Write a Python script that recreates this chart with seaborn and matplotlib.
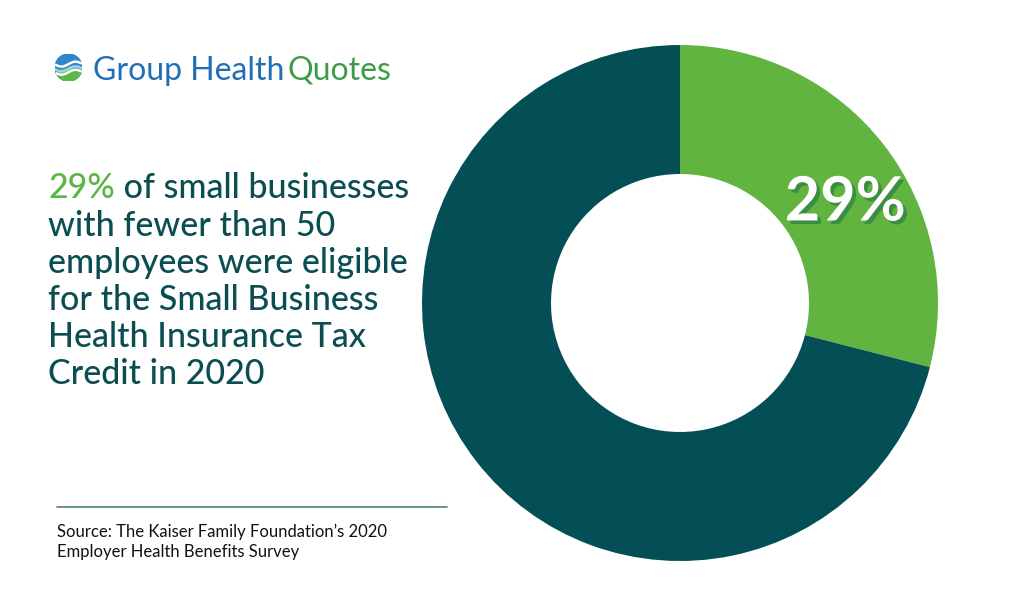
import matplotlib
matplotlib.use("Agg")
import matplotlib.pyplot as plt
import matplotlib.patheffects as pe
from matplotlib.patches import Circle, Wedge
import numpy as np
import seaborn as sns

# data
segments = ["Eligible", "Not eligible"]
shares = [29, 71]
seg_colors = ["#62B440", "#044F55"]
label_text = "29%"

headline_lead = "29%"
headline_rest = [" of small businesses",
                 "with fewer than 50",
                 "employees were eligible",
                 "for the Small Business",
                 "Health Insurance Tax",
                 "Credit in 2020"]
source_lines = ["Source: The Kaiser Family Foundation\u2019s 2020",
                "Employer Health Benefits Survey"]

sns.set_theme(style="white")
plt.rcParams["font.family"] = ["Lato", "DejaVu Sans"]

W, H = 1024, 611
fig = plt.figure(figsize=(W / 100, H / 100), dpi=100)
fig.patch.set_facecolor("white")

# donut
ax = fig.add_axes([422 / W, 1 - 561 / H, 516 / W, 516 / H])
wedges, _ = ax.pie(shares, colors=seg_colors, startangle=90, counterclock=False,
                   radius=1, wedgeprops=dict(width=0.5, linewidth=0))
ax.set_xlim(-1, 1)
ax.set_ylim(-1, 1)
ax.set_aspect("equal")
ax.axis("off")

# label inside green wedge
w = wedges[0]
ang = np.deg2rad((w.theta1 + w.theta2) / 2 - 6.5)
r = 0.75
ax.text(r * np.cos(ang), r * np.sin(ang), label_text, ha="center", va="center",
        fontsize=44, fontweight="bold", color="white",
        path_effects=[pe.SimplePatchShadow(offset=(2.5, -2.5), shadow_rgbFace="#3A8E42", alpha=1),
                      pe.Normal()])

# headline text
dark = "#0B4E52"
green = "#5DB544"
fs = 24.5
y0 = 1 - 198.5 / H
step = 37.2 / H
x0 = 48 / W
t = fig.text(x0, y0, headline_lead, color=green, fontsize=fs, va="baseline", ha="left",
             fontweight="medium")
fig.canvas.draw()
bb = t.get_window_extent()
fig.text(bb.x1 / W, y0, headline_rest[0], color=dark, fontsize=fs, va="baseline", ha="left",
         fontweight="medium")
for i, line in enumerate(headline_rest[1:], start=1):
    fig.text(x0, y0 - i * step, line, color=dark, fontsize=fs, va="baseline", ha="left",
             fontweight="medium")

# divider line and source
fig.add_artist(plt.Line2D([57 / W, 447 / W], [1 - 507 / H, 1 - 507 / H], color="#4F7E84", lw=1.2))
for i, line in enumerate(source_lines):
    fig.text(57 / W, 1 - (537 + i * 19.5) / H, line, fontsize=12, color="#111111",
             va="baseline", ha="left")

# logo
lax = fig.add_axes([55 / W, 1 - 81 / H, 27 / W, 27 / H])
lax.set_xlim(-1, 1)
lax.set_ylim(-1, 1)
lax.set_aspect("equal")
lax.axis("off")
lax.add_patch(Circle((0, 0), 1, color="#2E86C9"))
lax.add_patch(Wedge((0, 0), 1, 200, 340, color="#5CB648"))
xs = np.linspace(-1, 1, 50)
for off, c in [(0.25, "white"), (-0.1, "#9ED3F0"), (-0.35, "white")]:
    ys = off + 0.18 * np.sin(xs * 3)
    m = xs ** 2 + ys ** 2 < 1
    lax.plot(xs[m], ys[m], color=c, lw=1.8)
lt = fig.text(93 / W, 1 - 80 / H, "Group Health", fontsize=23, color="#1F6EB6",
              va="baseline", ha="left")
fig.canvas.draw()
lb = lt.get_window_extent()
fig.text(lb.x1 / W + 3 / W, 1 - 80 / H, "Quotes", fontsize=23, color="#3C9B48",
         va="baseline", ha="left")

fig.savefig("out.png", dpi=100, facecolor="white")
